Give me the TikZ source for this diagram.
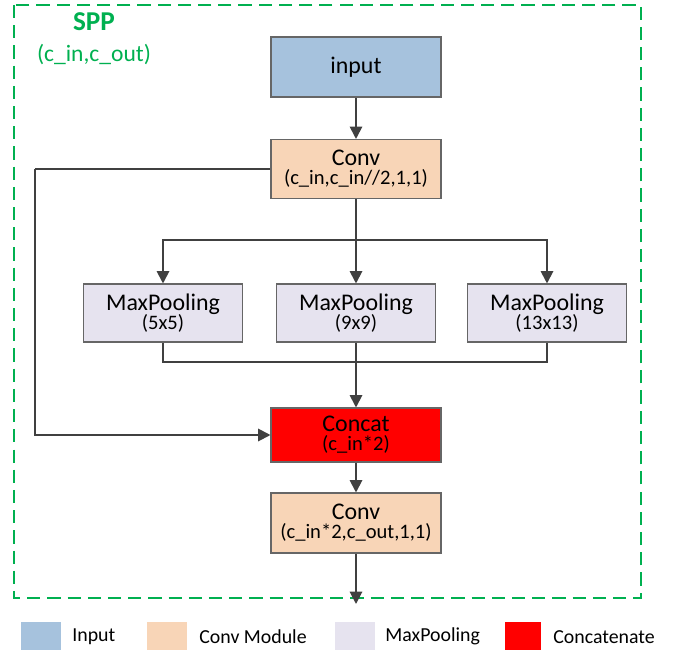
\documentclass[tikz,border=0pt]{standalone}
\usepackage{fontspec}
\setmainfont{Carlito}
\usetikzlibrary{arrows.meta}

\definecolor{inblue}{RGB}{166,194,221}
\definecolor{convpeach}{RGB}{248,213,183}
\definecolor{poolgray}{RGB}{230,227,239}
\definecolor{sppgreen}{RGB}{0,176,80}
\definecolor{linegray}{RGB}{64,64,64}

\newcommand{\parm}[1]{{\fontsize{11.7pt}{13pt}\selectfont #1}}

\begin{document}
\begin{tikzpicture}[x=0.02cm, y=-0.02cm,
  box/.style={draw=gray!80!black, line width=0.6pt, minimum width=3.4cm,
    minimum height=1.2cm, align=center, inner sep=1pt,
    font=\fontsize{13.6pt}{14pt}\selectfont},
  poolbox/.style={box, fill=poolgray, minimum width=3.18cm, minimum height=1.16cm},
  link/.style={draw=linegray, line width=1.1pt},
  arr/.style={link, -{Triangle[length=7pt, width=7pt]}},
  legbox/.style={draw=none, minimum width=0.8cm, minimum height=0.56cm},
  legtxt/.style={anchor=west, inner sep=0pt, font=\fontsize{11.3pt}{13pt}\selectfont}]

  \useasboundingbox (0,0) rectangle (685,655);

  % 外框
  \draw[sppgreen, line width=1.1pt, dash pattern=on 7.5pt off 4pt]
    (14,5) rectangle (641,598);
  \node[text=sppgreen, font=\bfseries\fontsize{15.5pt}{17pt}\selectfont] (sppname) at (94,22) {SPP};
  \node[text=sppgreen, font=\fontsize{13.4pt}{15pt}\selectfont] (sppargs) at (94,55) {(c\_in,c\_out)};

  % 模块
  \node[box, fill=inblue] (input) at (356,67) {input};
  \node[box, fill=convpeach, minimum height=1.18cm] (conv1) at (356,169)
    {Conv\\[-3pt]\parm{(c\_in,c\_in//2,1,1)}};
  \node[poolbox] (pool1) at (163,313) {MaxPooling\\[-3pt]\parm{(5x5)}};
  \node[poolbox] (pool2) at (356,313) {MaxPooling\\[-3pt]\parm{(9x9)}};
  \node[poolbox] (pool3) at (547,313) {MaxPooling\\[-3pt]\parm{(13x13)}};
  \node[box, fill=red, minimum height=1.08cm] (concat) at (356,435)
    {Concat\\[-3pt]\parm{(c\_in*2)}};
  \node[box, fill=convpeach] (conv2) at (356,523)
    {Conv\\[-3pt]\parm{(c\_in*2,c\_out,1,1)}};

  \coordinate (split) at (356,240);
  \coordinate (merge) at (356,362);
  \coordinate (skip) at (35,169);
  \coordinate (out) at (356,604);

  % 连线
  \draw[arr] (input) -- (conv1);
  \draw[link] (conv1) -- (split);
  \draw[arr] (split) -| (pool1);
  \draw[arr] (split) -| (pool3);
  \draw[arr] (split) -- (pool2);
  \draw[link] (pool1) |- (merge);
  \draw[link] (pool3) |- (merge);
  \draw[arr] (pool2) -- (concat);
  \draw[link] (conv1) -- (skip);
  \draw[arr] (skip) |- (concat);
  \draw[arr] (concat) -- (conv2);
  \draw[arr] (conv2) -- (out);

  % 图例
  \node[legbox, fill=inblue] (legin) at (41,636) {};
  \node[legtxt] (legintxt) at (72,637) {Input};
  \node[legbox, fill=convpeach] (legconv) at (167,636) {};
  \node[legtxt] (legconvtxt) at (199,637) {Conv Module};
  \node[legbox, fill=poolgray] (legpool) at (355,636) {};
  \node[legtxt] (legpooltxt) at (385,636) {MaxPooling};
  \node[legbox, fill=red, minimum width=0.72cm] (legcat) at (523,636) {};
  \node[legtxt] (legcattxt) at (553,637) {Concatenate};
\end{tikzpicture}
\end{document}
